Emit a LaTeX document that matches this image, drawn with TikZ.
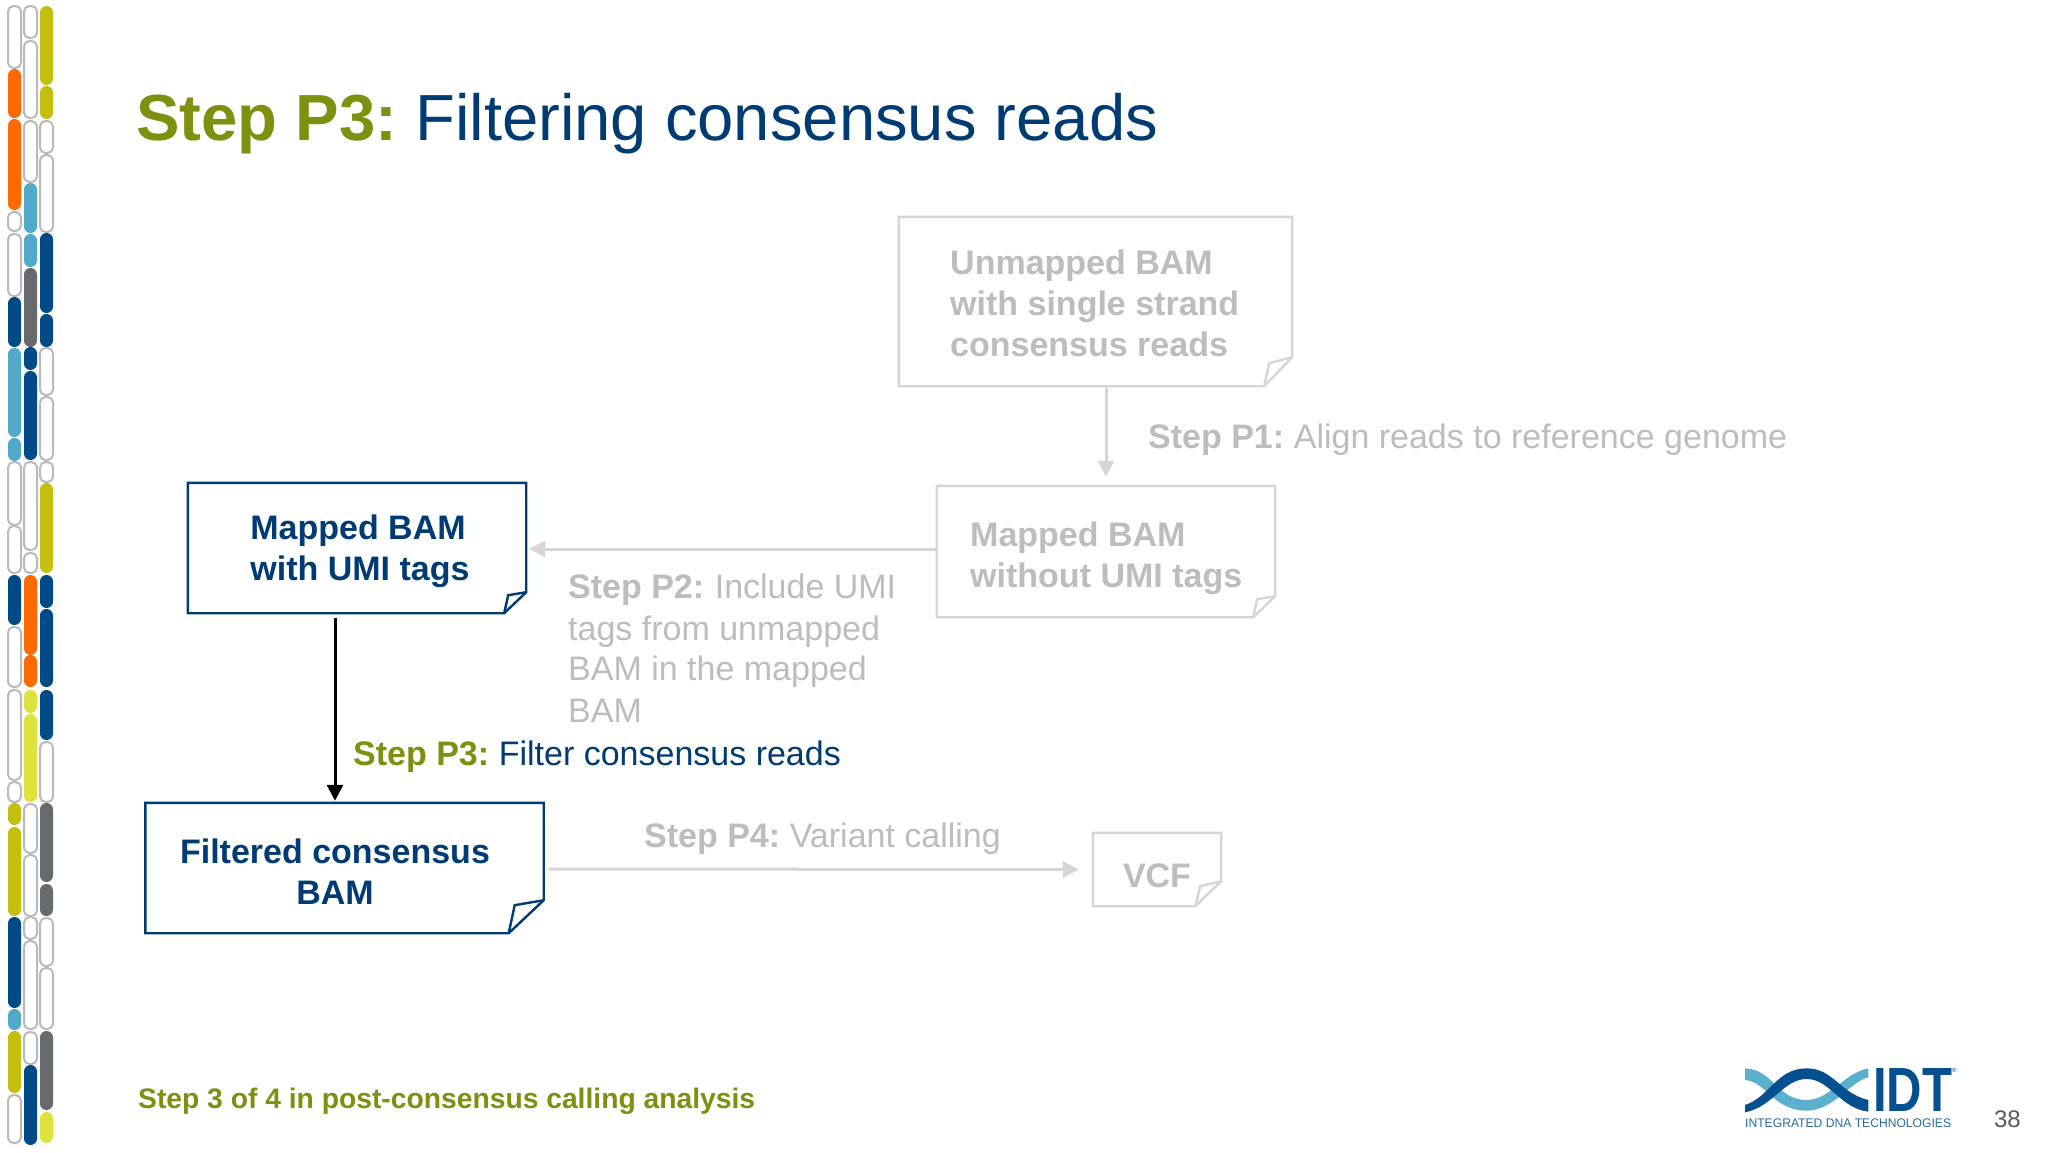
\documentclass[tikz,border=0pt]{standalone}
\usepackage{fontspec}
\setmainfont{Liberation Sans}
\usetikzlibrary{arrows.meta}
\definecolor{navy}{HTML}{003B73}
\definecolor{olivetxt}{HTML}{7F8F0F}
\definecolor{ghosttxt}{HTML}{BDBCBF}
\definecolor{ghostline}{HTML}{D6D5D7}
\definecolor{chrGrey}{HTML}{BBB9BC}
\definecolor{chrOlive}{HTML}{C4BE0E}
\definecolor{chrOrange}{HTML}{FF6A00}
\definecolor{chrSky}{HTML}{52A9C9}
\definecolor{chrNavy}{HTML}{004B87}
\definecolor{chrSlate}{HTML}{676A6C}
\definecolor{chrLime}{HTML}{DDE23C}
\definecolor{logoSky}{HTML}{5BB0CE}
\definecolor{logoNavy}{HTML}{05508F}
\tikzset{
  txt/.style={inner sep=0pt,anchor=base west,align=left},
  boxtxt/.style={txt,font=\fontsize{34}{41}\selectfont\bfseries},
  steptxt/.style={txt,font=\fontsize{34}{41}\selectfont},
  paper/.style={inner sep=0pt,draw=none},
  livebox/.style={draw=navy,line width=2.4pt,line join=miter},
  ghostbox/.style={draw=ghostline,line width=2.4pt,line join=miter},
  liveflow/.style={draw=black,line width=3pt,-{Triangle[length=16pt,width=16pt]}},
  ghostflow/.style={draw=ghostline,line width=3pt,-{Triangle[length=16pt,width=16pt]}},
  segw/.style={draw=chrGrey,fill=white,line width=2pt,rounded corners=5.5pt},
  segfill/.style={fill=#1,rounded corners=6.4pt},
  sego/.style={segfill=chrOlive},
  segr/.style={segfill=chrOrange},
  segs/.style={segfill=chrSky},
  segn/.style={segfill=chrNavy},
  segg/.style={segfill=chrSlate},
  segl/.style={segfill=chrLime},
}
\newcommand{\paperbox}[9][]{%
  \node[paper,minimum width=#4pt,minimum height=#5pt] (#2) at #3 {};
  \draw[#1] (#2.north west) -- (#2.north east) -- ([yshift=#7pt]#2.south east)
     -- ([xshift=-#6pt]#2.south east) -- (#2.south west) -- cycle;
  \draw[#1] ([xshift=-#6pt]#2.south east) -- ([xshift=-#8pt,yshift=#9pt]#2.south east) -- ([yshift=#7pt]#2.south east);
}
\newcommand{\chrseg}[4]{%
  \ifx#4w\draw[segw] (#1-5.5,#2+1) rectangle (#1+5.5,#3-1);
  \else\fill[seg#4] (#1-6.5,#2) rectangle (#1+6.5,#3);\fi}
\begin{document}
\begin{tikzpicture}[x=1pt,y=-1pt]
\useasboundingbox (0,0) rectangle (2048,1152);
\fill[white] (0,0) rectangle (2048,1152);
% chromosomes
\foreach \a/\b/\c in {6/68/w,69/118/r,119/210/r,212/231/w,234/296/w,297/347/n,348/437/s,438/461/s,462/525/w,526/573/w,575/625/n,627/687/w,690/780/w,782/802/w,803/825/o,827/916/o,917/1008/n,1009/1030/s,1031/1093/o,1095/1143/w}{\chrseg{14.5}{\a}{\b}{\c}}
\foreach \a/\b/\c in {6/38/w,41/118/w,121/182/w,183/233/s,234/267/s,268/347/g,347/370/n,371/460/n,462/550/w,553/573/w,575/655/r,655/687/r,690/713/l,714/802/l,804/853/w,855/916/w,917/939/w,941/1029/w,1032/1064/w,1065/1145/n}{\chrseg{30.5}{\a}{\b}{\c}}
\foreach \a/\b/\c in {6/85/o,86/119/o,121/153/w,155/232/w,233/313/n,314/347/n,348/395/w,397/460/w,462/482/w,483/573/o,575/608/n,609/687/n,690/740/n,742/802/w,803/882/g,884/916/g,918/966/w,968/1029/w,1031/1110/g,1112/1143/l}{\chrseg{46.5}{\a}{\b}{\c}}
% title
\node[txt,font=\fontsize{65.2}{70}\selectfont] (title) at (136,140.5) {\textcolor{olivetxt}{\bfseries Step P3:}\kern-6pt{} \textcolor{navy}{Filtering consensus reads}};
% boxes
\paperbox[ghostbox]{unmapped}{(1095.5,301.5)}{393}{169}{28}{29}{23}{23}
\paperbox[ghostbox]{mappedno}{(1106,551.5)}{338}{131}{22}{21}{18}{18}
\paperbox[livebox]{mappedumi}{(357,548)}{338}{130}{22}{21}{18}{18}
\paperbox[livebox]{filtered}{(344.5,868)}{398}{130}{35}{33}{29}{28}
\paperbox[ghostbox]{vcf}{(1157,869.5)}{128}{73}{26}{25}{21}{20}
% box text
\node[boxtxt,text=ghosttxt] (t1a) at (950,274) {Unmapped BAM};
\node[boxtxt,text=ghosttxt] (t1b) at (950,315) {with single strand};
\node[boxtxt,text=ghosttxt] (t1c) at (950,356) {consensus reads};
\node[boxtxt,text=ghosttxt] (t2a) at (970,546) {Mapped BAM};
\node[boxtxt,text=ghosttxt] (t2b) at (970,587) {without UMI tags};
\node[boxtxt,text=navy,anchor=base] (t3a) at (358,539) {Mapped BAM};
\node[boxtxt,text=navy,anchor=base] (t3b) at (360,580) {with UMI tags};
\node[boxtxt,text=navy,anchor=base] (t4a) at (335,863) {Filtered consensus};
\node[boxtxt,text=navy,anchor=base] (t4b) at (335,904) {BAM};
\node[boxtxt,text=ghosttxt,anchor=base] (t5) at (1157,887) {VCF};
% connectors
\draw[ghostflow] ([xshift=10.5pt,yshift=-2pt]unmapped.south) -- ([yshift=9pt]mappedno.north);
\draw[ghostflow] ([yshift=2.5pt]mappedno.west) -- ([xshift=3pt,yshift=-1pt]mappedumi.east);
\draw[liveflow] ([xshift=-22pt,yshift=-5pt]mappedumi.south) -- ([xshift=-9.5pt,yshift=2pt]filtered.north);
\draw[ghostflow] ([xshift=5pt,yshift=-1pt]filtered.east) -- ([xshift=-14pt,yshift=0pt]vcf.west);
% step labels
\node[steptxt,text=ghosttxt] (p1) at (1148,448) {\bfseries Step P1:\kern-3pt{} \mdseries Align reads to reference genome};
\node[steptxt,text=ghosttxt] (p2a) at (568,598) {\bfseries Step P2:\kern-2pt{} \mdseries Include UMI};
\node[steptxt,text=ghosttxt] (p2b) at (568,640) {tags from unmapped};
\node[steptxt,text=ghosttxt] (p2c) at (568,680) {BAM in the mapped};
\node[steptxt,text=ghosttxt] (p2d) at (568,722) {BAM};
\node[steptxt] (p3) at (353,765) {\textcolor{olivetxt}{\bfseries Step P3:}\kern-3pt{} \textcolor{navy}{Filter consensus reads}};
\node[steptxt,text=ghosttxt] (p4) at (644,847) {\bfseries Step P4:\kern-3pt{} \mdseries Variant calling};
% footer
\node[txt,font=\fontsize{28.25}{32}\selectfont\bfseries,text=olivetxt] (foot) at (138,1108) {Step 3 of 4 in post-consensus calling analysis};
\node[txt,font=\fontsize{24}{28}\selectfont,text=black!65,anchor=base east] (pg) at (2021,1127) {38};
% logo
\begin{scope}[shift={(1720,1050)},x=0.3333pt,y=-0.3333pt]
\fill[logoSky] (75,55) .. controls (160,58) and (170,150) .. (260,150) .. controls (330,150) and (370,70) .. (445,55) -- (445,82) .. controls (390,95) and (340,182) .. (260,182) .. controls (160,182) and (140,95) .. (75,90) -- cycle;
\fill[logoNavy] (75,165) .. controls (150,140) and (170,55) .. (260,55) .. controls (340,55) and (360,130) .. (445,150) -- (445,185) .. controls (360,175) and (330,87) .. (260,87) .. controls (190,87) and (160,170) .. (75,187) -- cycle;
\end{scope}
\node[txt,font=\fontsize{62.5}{63}\selectfont\bfseries,text=logoNavy,xscale=.785] (idt) at (1873,1111) {IDT};
\node[txt,font=\fontsize{6}{6}\selectfont,text=logoNavy] (reg) at (1952,1072) {®};
\node[txt,font=\fontsize{12.5}{13}\selectfont,text=logoNavy!85,xscale=.97] (tag) at (1745,1127) {INTEGRATED DNA TECHNOLOGIES};
\end{tikzpicture}
\end{document}
